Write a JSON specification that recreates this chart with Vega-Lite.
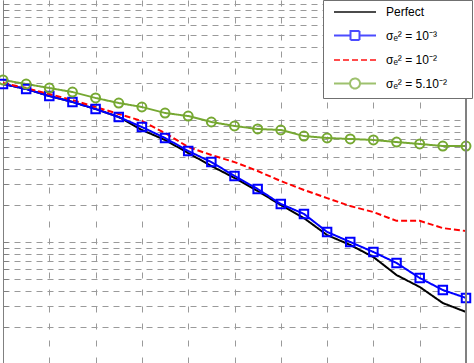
{
  "$schema": "https://vega.github.io/schema/vega-lite/v6.json",
  "autosize": "none",
  "width": 463,
  "height": 363,
  "padding": {"left": 3, "top": 0, "right": 8, "bottom": 0},
  "background": "white",
  "config": {"view": {"stroke": null}},
  "datasets": {
    "curves": [
      {"x":0,"s":"Perfect","v":0.1973},{"x":1,"s":"Perfect","v":0.1795},{"x":2,"s":"Perfect","v":0.1573},{"x":3,"s":"Perfect","v":0.1404},{"x":4,"s":"Perfect","v":0.1231},{"x":5,"s":"Perfect","v":0.1058},{"x":6,"s":"Perfect","v":0.0828},{"x":7,"s":"Perfect","v":0.0686},{"x":8,"s":"Perfect","v":0.0536},{"x":9,"s":"Perfect","v":0.0420},{"x":10,"s":"Perfect","v":0.0335},{"x":11,"s":"Perfect","v":0.0262},{"x":12,"s":"Perfect","v":0.0201},{"x":13,"s":"Perfect","v":0.0157},{"x":14,"s":"Perfect","v":0.0114},{"x":15,"s":"Perfect","v":0.00945},{"x":16,"s":"Perfect","v":0.00753},{"x":17,"s":"Perfect","v":0.00536},{"x":18,"s":"Perfect","v":0.00428},{"x":19,"s":"Perfect","v":0.00316},{"x":20,"s":"Perfect","v":0.00267},
      {"x":0,"s":"σₑ² = 10⁻³","v":0.1973},{"x":1,"s":"σₑ² = 10⁻³","v":0.1795},{"x":2,"s":"σₑ² = 10⁻³","v":0.1573},{"x":3,"s":"σₑ² = 10⁻³","v":0.1404},{"x":4,"s":"σₑ² = 10⁻³","v":0.1231},{"x":5,"s":"σₑ² = 10⁻³","v":0.1058},{"x":6,"s":"σₑ² = 10⁻³","v":0.0876},{"x":7,"s":"σₑ² = 10⁻³","v":0.0712},{"x":8,"s":"σₑ² = 10⁻³","v":0.0557},{"x":9,"s":"σₑ² = 10⁻³","v":0.0452},{"x":10,"s":"σₑ² = 10⁻³","v":0.0348},{"x":11,"s":"σₑ² = 10⁻³","v":0.0272},{"x":12,"s":"σₑ² = 10⁻³","v":0.0205},{"x":13,"s":"σₑ² = 10⁻³","v":0.0170},{"x":14,"s":"σₑ² = 10⁻³","v":0.0121},{"x":15,"s":"σₑ² = 10⁻³","v":0.0100},{"x":16,"s":"σₑ² = 10⁻³","v":0.00828},{"x":17,"s":"σₑ² = 10⁻³","v":0.00673},{"x":18,"s":"σₑ² = 10⁻³","v":0.00507},{"x":19,"s":"σₑ² = 10⁻³","v":0.00404},{"x":20,"s":"σₑ² = 10⁻³","v":0.00348},
      {"x":0,"s":"σₑ² = 10⁻²","v":0.2010},{"x":1,"s":"σₑ² = 10⁻²","v":0.1829},{"x":2,"s":"σₑ² = 10⁻²","v":0.1633},{"x":3,"s":"σₑ² = 10⁻²","v":0.1458},{"x":4,"s":"σₑ² = 10⁻²","v":0.1278},{"x":5,"s":"σₑ² = 10⁻²","v":0.1120},{"x":6,"s":"σₑ² = 10⁻²","v":0.0981},{"x":7,"s":"σₑ² = 10⁻²","v":0.0782},{"x":8,"s":"σₑ² = 10⁻²","v":0.0601},{"x":9,"s":"σₑ² = 10⁻²","v":0.0516},{"x":10,"s":"σₑ² = 10⁻²","v":0.0452},{"x":11,"s":"σₑ² = 10⁻²","v":0.0382},{"x":12,"s":"σₑ² = 10⁻²","v":0.0316},{"x":13,"s":"σₑ² = 10⁻²","v":0.0267},{"x":14,"s":"σₑ² = 10⁻²","v":0.0229},{"x":15,"s":"σₑ² = 10⁻²","v":0.0197},{"x":16,"s":"σₑ² = 10⁻²","v":0.0176},{"x":17,"s":"σₑ² = 10⁻²","v":0.0149},{"x":18,"s":"σₑ² = 10⁻²","v":0.0149},{"x":19,"s":"σₑ² = 10⁻²","v":0.0130},{"x":20,"s":"σₑ² = 10⁻²","v":0.0123},
      {"x":0,"s":"σₑ² = 5.10⁻²","v":0.2128},{"x":1,"s":"σₑ² = 5.10⁻²","v":0.1973},{"x":2,"s":"σₑ² = 5.10⁻²","v":0.1829},{"x":3,"s":"σₑ² = 5.10⁻²","v":0.1696},{"x":4,"s":"σₑ² = 5.10⁻²","v":0.1515},{"x":5,"s":"σₑ² = 5.10⁻²","v":0.1378},{"x":6,"s":"σₑ² = 5.10⁻²","v":0.1278},{"x":7,"s":"σₑ² = 5.10⁻²","v":0.1141},{"x":8,"s":"σₑ² = 5.10⁻²","v":0.1078},{"x":9,"s":"σₑ² = 5.10⁻²","v":0.0963},{"x":10,"s":"σₑ² = 5.10⁻²","v":0.0893},{"x":11,"s":"σₑ² = 5.10⁻²","v":0.0844},{"x":12,"s":"σₑ² = 5.10⁻²","v":0.0828},{"x":13,"s":"σₑ² = 5.10⁻²","v":0.0739},{"x":14,"s":"σₑ² = 5.10⁻²","v":0.0712},{"x":15,"s":"σₑ² = 5.10⁻²","v":0.0699},{"x":16,"s":"σₑ² = 5.10⁻²","v":0.0686},{"x":17,"s":"σₑ² = 5.10⁻²","v":0.0660},{"x":18,"s":"σₑ² = 5.10⁻²","v":0.0636},{"x":19,"s":"σₑ² = 5.10⁻²","v":0.0612},{"x":20,"s":"σₑ² = 5.10⁻²","v":0.0612}
    ],
    "legendrows": [
      {"x":0,"s":"Perfect","v":0.000001},{"x":0,"s":"σₑ² = 10⁻³","v":0.000001},{"x":0,"s":"σₑ² = 10⁻²","v":0.000001},{"x":0,"s":"σₑ² = 5.10⁻²","v":0.000001}
    ]
  },
  "encoding": {
    "x": {"field": "x", "type": "quantitative",
      "scale": {"domain": [0, 20], "nice": false, "zero": false},
      "axis": {"values": [0,2,4,6,8,10,12,14,16,18,20], "labels": false, "ticks": false, "domain": false, "title": null,
        "grid": true, "gridColor": "#9a9a9a", "gridDash": [6, 11], "gridWidth": 1}},
    "y": {"field": "v", "type": "quantitative",
      "scale": {"type": "log", "domain": [0.001019, 0.963], "nice": false, "zero": false},
      "axis": {"values": [0.001,0.002,0.003,0.004,0.005,0.006,0.007,0.008,0.009,0.01,0.02,0.03,0.04,0.05,0.06,0.07,0.08,0.09,0.1,0.2,0.3,0.4,0.5,0.6,0.7,0.8,0.9],
        "labels": false, "ticks": true, "tickSize": -5, "tickColor": "#808080", "domain": true, "domainColor": "#808080", "domainWidth": 1, "title": null,
        "grid": true, "gridColor": "#9a9a9a", "gridDash": [6, 5], "gridWidth": 1}}
  },
  "layer": [
    {
      "data": {"name": "curves"},
      "mark": {"type": "line", "strokeWidth": 2},
      "encoding": {
        "color": {"field": "s", "type": "nominal",
          "scale": {"domain": ["Perfect", "σₑ² = 10⁻³", "σₑ² = 10⁻²", "σₑ² = 5.10⁻²"], "range": ["#000000", "#0000ff", "#ff0000", "#76a832"]}},
        "strokeDash": {"field": "s", "type": "nominal",
          "scale": {"domain": ["Perfect", "σₑ² = 10⁻³", "σₑ² = 10⁻²", "σₑ² = 5.10⁻²"], "range": [[1, 0], [1, 0], [6, 3], [1, 0]]}},
        "order": {"field": "x", "type": "quantitative"}
      }
    },
    {
      "data": {"name": "curves"},
      "transform": [{"filter": "datum.s === 'σₑ² = 10⁻³'"}],
      "mark": {"type": "point", "shape": "square", "filled": false, "size": 72, "strokeWidth": 2, "color": "#0000ff", "opacity": 1},
      "encoding": {}
    },
    {
      "data": {"name": "curves"},
      "transform": [{"filter": "datum.s === 'σₑ² = 5.10⁻²'"}],
      "mark": {"type": "point", "shape": "circle", "filled": false, "size": 80, "strokeWidth": 2, "color": "#76a832", "opacity": 1},
      "encoding": {}
    },
    {
      "data": {"name": "curves"},
      "mark": {"type": "rule", "color": "#808080", "strokeWidth": 1},
      "encoding": {"x": {"datum": 20}, "y": null}
    },
    {
      "data": {"name": "legendrows"},
      "mark": {"type": "point", "filled": false, "clip": true, "strokeWidth": 2},
      "encoding": {
        "color": {"field": "s", "type": "nominal",
          "legend": {"title": null, "orient": "none", "legendX": 320, "legendY": 0, "padding": 5, "columns": 1, "direction": "vertical",
            "fillColor": "white", "strokeColor": "#707070", "symbolSize": 144, "symbolOffset": 20,
            "labelOffset": 24, "labelAlign": "left", "rowPadding": 8.5, "symbolStrokeWidth": 2,
            "labelFont": "Liberation Sans, Noto Sans, DejaVu Sans", "labelFontSize": 12, "labelColor": "#000000", "labelLimit": 200,
            "encode": {"symbols": {"update": {"fill": {"value": "transparent"}}}}},
          "scale": {"domain": ["Perfect", "σₑ² = 10⁻³", "σₑ² = 10⁻²", "σₑ² = 5.10⁻²"], "range": ["#000000", "#0000ff", "#ff0000", "#76a832"]}},
        "strokeDash": {"field": "s", "type": "nominal",
          "scale": {"domain": ["Perfect", "σₑ² = 10⁻³", "σₑ² = 10⁻²", "σₑ² = 5.10⁻²"], "range": [[1, 0], [1, 0], [6, 3], [1, 0]]}},
        "shape": {"field": "s", "type": "nominal",
          "scale": {"domain": ["Perfect", "σₑ² = 10⁻³", "σₑ² = 10⁻²", "σₑ² = 5.10⁻²"],
            "range": ["M-3.5,0H3.5M18,0",
                      "M-3.5,0H-0.75M0.75,0H3.5M-0.75,-0.75H0.75V0.75H-0.75Z",
                      "M-3.5,0H3.5",
                      "M-3.5,0H-0.83M0.83,0H3.5M-0.83,0A0.83,0.83 0 1 0 0.83,0A0.83,0.83 0 1 0 -0.83,0Z"]}}
      }
    }
  ]
}
